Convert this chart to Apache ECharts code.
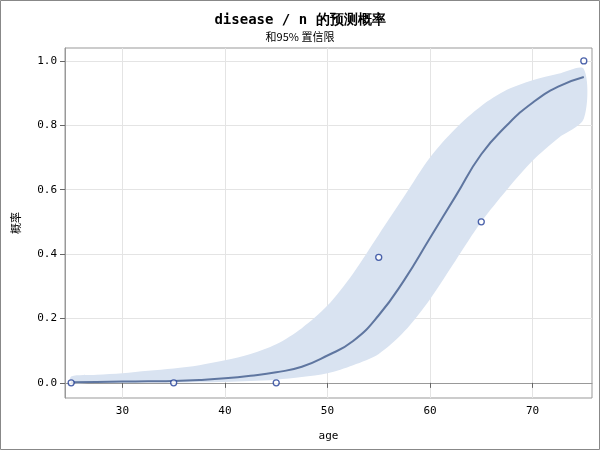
<!DOCTYPE html>
<html><head><meta charset="utf-8">
<script src="https://cdn.jsdelivr.net/npm/echarts@6/dist/echarts.min.js"></script>
<style>html,body{margin:0;padding:0}#c{width:600px;height:450px}</style>
</head><body><div id="c"></div>
<script>
const ages = [25,27.5,30,32.5,35,37.5,40,42.5,45,47.5,50,52.5,55,57.5,60,62.5,65,67.5,70,72.5,75];
const pred = [0.002,0.003,0.004,0.005,0.006,0.009,0.014,0.022,0.033,0.05,0.085,0.13,0.21,0.32,0.45,0.58,0.71,0.8,0.87,0.92,0.95];
const upper = [0.02,0.025,0.03,0.038,0.045,0.055,0.07,0.09,0.12,0.17,0.24,0.34,0.46,0.58,0.7,0.79,0.86,0.91,0.94,0.96,0.975];
const lower = [0,0,0,0.001,0.001,0.002,0.003,0.006,0.01,0.018,0.03,0.055,0.09,0.16,0.26,0.38,0.5,0.6,0.69,0.76,0.82];
const obsAge = [25,35,45,55,65,75];
const obsRate = [0,0,0,0.39,0.5,1];
const xTicks = [30,40,50,60,70];
const yTicks = [0,0.2,0.4,0.6,0.8,1.0];

const chart = echarts.init(document.getElementById('c'));
const font = 'DejaVu Sans Mono';
chart.setOption({
  backgroundColor:'#fff',
  animation:false,
  graphic:[{type:'rect',shape:{x:0.5,y:0.5,width:599,height:449},style:{fill:'none',stroke:'#888',lineWidth:1}}],
  title:{text:'disease / n 的预测概率',subtext:'和95% 置信限',left:'center',top:8,itemGap:4,
    textStyle:{fontFamily:font,fontSize:14,fontWeight:'bold',color:'#000'},
    subtextStyle:{fontFamily:'Noto Sans CJK SC',fontSize:11,color:'#000'}},
  grid:{left:65,right:8,top:48,bottom:52,show:true,borderColor:'#999',borderWidth:1},
  xAxis:{type:'value',min:24.4,max:75.8,name:'age',nameLocation:'middle',nameGap:33,
    nameTextStyle:{fontFamily:font,fontSize:11,color:'#000'},
    axisLine:{lineStyle:{color:'#999'}},
    axisTick:{customValues:xTicks,lineStyle:{color:'#666'}},
    axisLabel:{customValues:xTicks,fontFamily:font,fontSize:11,color:'#000'},
    splitLine:{show:true,lineStyle:{color:'#e4e4e4'}}},
  yAxis:{type:'value',min:-0.047,max:1.04,name:'概率',nameLocation:'middle',nameGap:44,
    nameTextStyle:{fontFamily:'Noto Sans CJK SC',fontSize:11,color:'#000'},
    axisLine:{show:true,lineStyle:{color:'#999'}},
    axisTick:{show:true,customValues:yTicks,lineStyle:{color:'#666'}},
    axisLabel:{customValues:yTicks,formatter:v=>v.toFixed(1),fontFamily:font,fontSize:11,color:'#000'},
    splitLine:{show:true,lineStyle:{color:'#e4e4e4'}}},
  series:[
    {type:'custom',z:1,data:[0],renderItem:function(params,api){
      const pts=[];
      for(let i=0;i<ages.length;i++) pts.push(api.coord([ages[i],upper[i]]));
      for(let i=ages.length-1;i>=0;i--) pts.push(api.coord([ages[i],lower[i]]));
      return {type:'polygon',shape:{points:pts,smooth:0.3},style:{fill:'#d9e3f1'}};
    }},
    {type:'line',z:3,data:ages.map((a,i)=>[a,pred[i]]),symbol:'none',smooth:true,lineStyle:{color:'#5f76a0',width:2}},
    {type:'scatter',z:5,data:obsAge.map((a,i)=>[a,obsRate[i]]),symbol:'circle',symbolSize:6,
      itemStyle:{color:'#fff',borderColor:'#1f3c96',borderWidth:1.3}}
  ]
});
</script></body></html>
